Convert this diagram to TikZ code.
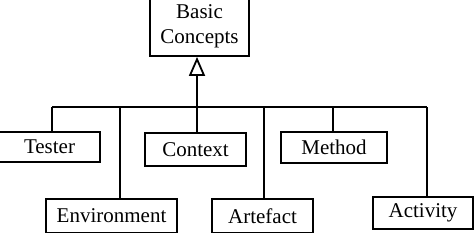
\documentclass[tikz,border=0pt]{standalone}
\usepackage{fontspec}
\setmainfont{Liberation Serif}
\usetikzlibrary{arrows.meta}

\begin{document}
\begin{tikzpicture}[
    x=0.5pt,
    y=-0.5pt,
    every node/.style={font=\fontsize{10.5}{12.5}\selectfont},
    concept/.style={draw=black, line width=0.9pt, inner sep=0pt, align=center},
    link/.style={draw=black, line width=0.9pt},
    isa/.style={-{Triangle[open, length=9.5pt, width=8pt]}, draw=black, line width=0.9pt}
  ]
    \useasboundingbox (0,0) rectangle (474,232);

    \node[concept, minimum width=49.5pt, minimum height=30pt] (basic) at (199.5,26)
      {Basic\\Concepts};

    \node[concept, minimum width=50.5pt, minimum height=15pt] (tester) at (49.5,147) {Tester};
    \node[concept, minimum width=50.5pt, minimum height=16.5pt] (context) at (195.5,149.5) {Context};
    \node[concept, minimum width=53pt, minimum height=15.5pt] (method) at (334,147.5) {Method};
    \node[concept, minimum width=65.5pt, minimum height=17pt] (environment) at (111.5,216) {Environment};
    \node[concept, minimum width=50.5pt, minimum height=17pt] (artefact) at (262.5,216) {Artefact};
    \node[concept, minimum width=50pt, minimum height=16pt] (activity) at (423,213) {Activity};

    \coordinate (bus) at (197,107);
    \coordinate (bt) at (52,107);
    \coordinate (be) at (120,107);
    \coordinate (ba) at (264,107);
    \coordinate (bm) at (333,107);
    \coordinate (bv) at (427,107);

    \draw[isa] (bus) -- (bus |- basic.south);
    \draw[link] (bt) -- (bv);
    \draw[link] (bt) -- (bt |- tester.north);
    \draw[link] (be) -- (be |- environment.north);
    \draw[link] (bus) -- (bus |- context.north);
    \draw[link] (ba) -- (ba |- artefact.north);
    \draw[link] (bm) -- (bm |- method.north);
    \draw[link] (bv) -- (bv |- activity.north);
\end{tikzpicture}
\end{document}
